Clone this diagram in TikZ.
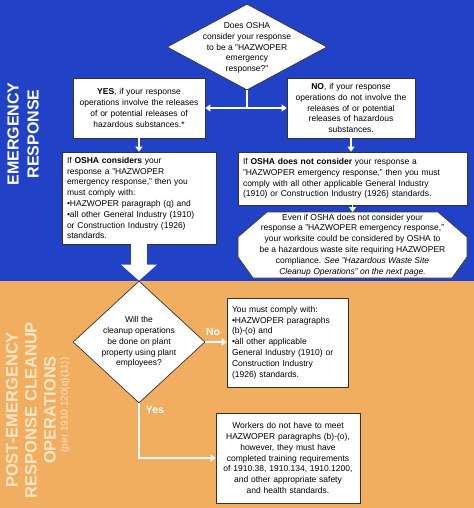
\documentclass[tikz,border=0pt]{standalone}
\usepackage{fontspec}
\setmainfont{Liberation Sans}
\usetikzlibrary{arrows.meta,calc,shapes.geometric}
\definecolor{erblue}{RGB}{33,66,198}
\definecolor{pcorange}{RGB}{242,174,96}
\definecolor{labelcream}{RGB}{252,230,200}
\definecolor{boxline}{RGB}{55,50,45}
\begin{document}
\begin{tikzpicture}[x=1bp,y=-1bp,
  txt/.style={font=\fontsize{8.5bp}{10.8bp}\selectfont},
  box/.style={txt, draw=boxline, fill=white, line width=0.7bp, inner xsep=5bp, inner ysep=0pt, anchor=center},
  decision/.style={diamond, draw=boxline, fill=white, line width=0.7bp, inner sep=0pt},
  flow/.style={draw=white, line width=1.8bp, -{Triangle[length=5bp,width=7bp]}},
  sidelabel/.style={font=\bfseries\fontsize{16bp}{20bp}\selectfont, align=center, rotate=90, inner sep=0pt},
  branch/.style={font=\bfseries\fontsize{10.5bp}{12bp}\selectfont, text=white, inner sep=0pt},
]
\useasboundingbox (0,0) rectangle (474,508);
\fill[erblue] (0,0) rectangle (474,281);
\fill[pcorange] (0,281) rectangle (474,508);

% side labels
\node[sidelabel, text=white] (erlab) at (23,134) {EMERGENCY\\RESPONSE};
\node[sidelabel, text=labelcream, font=\bfseries\fontsize{16.5bp}{19bp}\selectfont] (pclab) at (31,410) {POST-EMERGENCY\\RESPONSE CLEANUP\\OPERATIONS};
\node[font=\fontsize{10bp}{12bp}\selectfont, text=labelcream, rotate=90, inner sep=0pt] (perlab) at (65,405) {(per 1910.120(q)(11))};

% first decision
\node[decision, minimum width=160bp, minimum height=86bp] (d1) at (247,47) {};
\node[txt, align=center, inner sep=0pt] (d1t) at (247,48) {Does OSHA\\consider your response\\to be a "HAZWOPER\\emergency\\response?"};

\node[box, align=center, text width=122bp, minimum width=132bp, minimum height=60bp] (yes) at (139,108)
  {\textbf{YES}, if your response\\operations involve the releases\\of or potential releases of\\hazardous substances.*};
\node[box, align=center, text width=118bp, minimum width=128bp, minimum height=60bp] (no) at (351,108)
  {\textbf{NO}, if your response\\operations do not involve the\\releases of or potential\\releases of hazardous\\substances.};

\node[box, align=left, text width=144bp, minimum width=154bp, minimum height=92bp] (lbox) at (139,198)
  {If \textbf{OSHA considers} your\\response a "HAZWOPER\\emergency response," then you\\must comply with:\\•HAZWOPER paragraph (q) and\\•all other General Industry (1910)\\or Construction Industry (1926)\\standards.};
\node[box, align=left, text width=219bp, minimum width=229bp, minimum height=53bp] (rbox) at (352.5,178.5)
  {If \textbf{OSHA does not consider} your response a\\"HAZWOPER emergency response," then you must\\comply with all other applicable General Industry\\(1910) or Construction Industry (1926) standards.};

% octagon
\coordinate (octc) at (352.5,245);
\coordinate (octtop) at ($(octc)+(0,-33)$);
\draw[draw=boxline, fill=white, line width=0.7bp]
  ($(octc)+(-85.5,-33)$) -- ($(octc)+(85.5,-33)$) -- ($(octc)+(114.5,-8)$) -- ($(octc)+(114.5,12)$)
  -- ($(octc)+(99.5,33)$) -- ($(octc)+(-99.5,33)$) -- ($(octc)+(-114.5,12)$) -- ($(octc)+(-114.5,-8)$) -- cycle;
\node[txt, align=center, inner sep=0pt] (oct) at (octc)
  {Even if OSHA does not consider your\\response a "HAZWOPER emergency response,"\\your worksite could be considered by OSHA to\\be a hazardous waste site requiring HAZWOPER\\compliance. \textit{See "Hazardous Waste Site}\\\textit{Cleanup Operations" on the next page.}};

% second decision
\node[decision, minimum width=132bp, minimum height=122bp] (d2) at (139,342) {};
\node[txt, align=center, inner sep=0pt] (d2t) at (139,342) {Will the\\cleanup operations\\be done on plant\\property using plant\\employees?};

\node[box, align=left, text width=111bp, minimum width=121bp, minimum height=89bp] (ybox) at (287.5,342.5)
  {You must comply with:\\•HAZWOPER paragraphs\\(b)-(o) and\\•all other applicable\\General Industry (1910) or\\Construction Industry\\(1926) standards.};
\node[box, align=center, text width=134bp, minimum width=144bp, minimum height=90bp] (wbox) at (288,458)
  {Workers do not have to meet\\HAZWOPER paragraphs (b)-(o),\\however, they must have\\completed training requirements\\of 1910.38, 1910.134, 1910.1200,\\and other appropriate safety\\and health standards.};

% connectors
\draw[flow] (d1.south) |- (yes.east);
\draw[flow] (d1.south) |- (no.west);
\draw[flow] (yes.south) -- (yes.south |- lbox.north);
\draw[flow] (no.south) -- (no.south |- rbox.north);
\draw[flow] (rbox.south) -- (rbox.south |- octtop);
\draw[white, line width=16bp, -{Triangle[width=35bp,length=16bp]}] (lbox.south) -- (d2.north);
\draw[flow] (d2.east) -- (d2.east -| ybox.west);
\draw[flow] (d2.south) |- (wbox.west);

\node[branch] (nolab) at (213,332) {No};
\node[branch] (yeslab) at (155,410) {Yes};
\end{tikzpicture}
\end{document}
